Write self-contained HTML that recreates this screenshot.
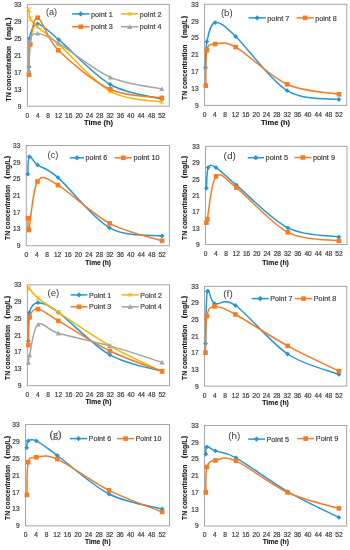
<!DOCTYPE html>
<html><head><meta charset="utf-8"><style>
html,body{margin:0;padding:0;background:#fff;width:350px;height:550px;overflow:hidden}
svg{display:block}
text{font-family:"Liberation Sans",sans-serif}
.tk{font-size:6.6px;fill:#404040;stroke:#404040;stroke-width:0.2}
.lg{font-size:7.6px;fill:#404040;stroke:#404040;stroke-width:0.2}
.xt{font-size:8.1px;font-weight:bold;fill:#1a1a1a;stroke:#1a1a1a;stroke-width:0.15}
.yt{font-size:7.6px;font-weight:bold;fill:#1a1a1a;stroke:#1a1a1a;stroke-width:0.1}
.yp{font-size:7.5px}
.ym{font-size:7.8px}
.lb{font-size:9.5px;fill:#404040}
.lbs{font-size:10px;fill:#404040;stroke:#404040;stroke-width:0.2;font-family:"Liberation Serif",serif}
</style></head><body>
<svg width="350" height="550" viewBox="0 0 350 550" style="will-change:transform">
<g><rect x="27.40" y="4.40" width="141.90" height="101.80" fill="none" stroke="#a6a6a6" stroke-width="1"/><text x="21.50" y="6.80" class="tk" text-anchor="end">33</text><text x="21.50" y="23.77" class="tk" text-anchor="end">29</text><text x="21.50" y="40.73" class="tk" text-anchor="end">25</text><text x="21.50" y="57.70" class="tk" text-anchor="end">21</text><text x="21.50" y="74.67" class="tk" text-anchor="end">17</text><text x="21.50" y="91.63" class="tk" text-anchor="end">13</text><text x="21.50" y="108.60" class="tk" text-anchor="end">9</text><text x="27.40" y="117.60" class="tk" text-anchor="middle">0</text><text x="37.74" y="117.60" class="tk" text-anchor="middle">4</text><text x="48.08" y="117.60" class="tk" text-anchor="middle">8</text><text x="58.42" y="117.60" class="tk" text-anchor="middle">12</text><text x="68.75" y="117.60" class="tk" text-anchor="middle">16</text><text x="79.09" y="117.60" class="tk" text-anchor="middle">20</text><text x="89.43" y="117.60" class="tk" text-anchor="middle">24</text><text x="99.77" y="117.60" class="tk" text-anchor="middle">28</text><text x="110.11" y="117.60" class="tk" text-anchor="middle">32</text><text x="120.45" y="117.60" class="tk" text-anchor="middle">36</text><text x="130.78" y="117.60" class="tk" text-anchor="middle">40</text><text x="141.12" y="117.60" class="tk" text-anchor="middle">44</text><text x="151.46" y="117.60" class="tk" text-anchor="middle">48</text><text x="161.80" y="117.60" class="tk" text-anchor="middle">52</text><text transform="translate(11.10 101.40) rotate(-90)" class="yt" textLength="55.40" lengthAdjust="spacingAndGlyphs">TN concentration</text><text transform="translate(10.10 39.90) rotate(-90)" class="yt yp">(</text><text transform="translate(10.10 20.10) rotate(-90)" class="yt yp">)</text><text transform="translate(11.45 37.10) rotate(-90)" class="yt ym" textLength="16.70" lengthAdjust="spacingAndGlyphs">mg/L</text><text x="98.50" y="124.80" class="xt" text-anchor="middle" textLength="29.0" lengthAdjust="spacingAndGlyphs">Time (h)</text><text x="45.90" y="15.40" class="lb" textLength="11.2" lengthAdjust="spacingAndGlyphs">(a)</text><path d="M29.00 66.90 C29.07 62.17 27.95 45.67 29.40 38.50 C30.85 31.33 32.82 23.70 37.70 23.90 C42.58 24.10 46.60 29.60 58.70 39.70 C70.80 49.80 93.12 74.63 110.30 84.50 C127.48 94.37 153.22 96.50 161.80 98.90" fill="none" stroke="#2496d8" stroke-width="1.5"/><path d="M29.00 64.50L31.40 66.90L29.00 69.30L26.60 66.90Z" fill="#2496d8"/><path d="M29.40 36.10L31.80 38.50L29.40 40.90L27.00 38.50Z" fill="#2496d8"/><path d="M37.70 21.50L40.10 23.90L37.70 26.30L35.30 23.90Z" fill="#2496d8"/><path d="M58.70 37.30L61.10 39.70L58.70 42.10L56.30 39.70Z" fill="#2496d8"/><path d="M110.30 82.10L112.70 84.50L110.30 86.90L107.90 84.50Z" fill="#2496d8"/><path d="M161.80 96.50L164.20 98.90L161.80 101.30L159.40 98.90Z" fill="#2496d8"/><path d="M28.80 9.80 C29.03 11.28 28.83 15.90 30.20 18.70 C31.57 21.50 32.28 22.37 37.00 26.60 C41.72 30.83 46.28 33.32 58.50 44.10 C70.72 54.88 93.08 81.65 110.30 91.30 C127.52 100.95 153.22 100.22 161.80 102.00" fill="none" stroke="#f7b500" stroke-width="1.5"/><path d="M26.40 7.40L31.20 12.20M31.20 7.40L26.40 12.20M28.80 7.16L28.80 12.44" stroke="#f7b500" stroke-width="0.9" fill="none"/><path d="M27.80 16.30L32.60 21.10M32.60 16.30L27.80 21.10M30.20 16.06L30.20 21.34" stroke="#f7b500" stroke-width="0.9" fill="none"/><path d="M34.60 24.20L39.40 29.00M39.40 24.20L34.60 29.00M37.00 23.96L37.00 29.24" stroke="#f7b500" stroke-width="0.9" fill="none"/><path d="M56.10 41.70L60.90 46.50M60.90 41.70L56.10 46.50M58.50 41.46L58.50 46.74" stroke="#f7b500" stroke-width="0.9" fill="none"/><path d="M107.90 88.90L112.70 93.70M112.70 88.90L107.90 93.70M110.30 88.66L110.30 93.94" stroke="#f7b500" stroke-width="0.9" fill="none"/><path d="M159.40 99.60L164.20 104.40M164.20 99.60L159.40 104.40M161.80 99.36L161.80 104.64" stroke="#f7b500" stroke-width="0.9" fill="none"/><path d="M29.00 74.80 C29.22 69.75 28.85 54.02 30.30 44.50 C31.75 34.98 33.03 16.73 37.70 17.70 C42.37 18.67 46.20 38.37 58.30 50.30 C70.40 62.23 93.05 81.37 110.30 89.30 C127.55 97.23 153.22 96.47 161.80 97.90" fill="none" stroke="#f77b22" stroke-width="1.5"/><rect x="26.70" y="72.50" width="4.60" height="4.60" fill="#f77b22"/><rect x="28.00" y="42.20" width="4.60" height="4.60" fill="#f77b22"/><rect x="35.40" y="15.40" width="4.60" height="4.60" fill="#f77b22"/><rect x="56.00" y="48.00" width="4.60" height="4.60" fill="#f77b22"/><rect x="108.00" y="87.00" width="4.60" height="4.60" fill="#f77b22"/><rect x="159.50" y="95.60" width="4.60" height="4.60" fill="#f77b22"/><path d="M29.00 70.50 C29.08 65.67 28.05 47.67 29.50 41.50 C30.95 35.33 32.90 33.23 37.70 33.50 C42.50 33.77 46.20 35.80 58.30 43.10 C70.40 50.40 93.05 69.65 110.30 77.30 C127.55 84.95 153.22 87.05 161.80 89.00" fill="none" stroke="#a5a5a5" stroke-width="1.5"/><path d="M29.00 67.90L31.60 72.58L26.40 72.58Z" fill="#a5a5a5"/><path d="M29.50 38.90L32.10 43.58L26.90 43.58Z" fill="#a5a5a5"/><path d="M37.70 30.90L40.30 35.58L35.10 35.58Z" fill="#a5a5a5"/><path d="M58.30 40.50L60.90 45.18L55.70 45.18Z" fill="#a5a5a5"/><path d="M110.30 74.70L112.90 79.38L107.70 79.38Z" fill="#a5a5a5"/><path d="M161.80 86.40L164.40 91.08L159.20 91.08Z" fill="#a5a5a5"/><line x1="72.00" y1="13.90" x2="89.50" y2="13.90" stroke="#2496d8" stroke-width="1.5"/><path d="M80.75 11.26L83.39 13.90L80.75 16.54L78.11 13.90Z" fill="#2496d8"/><text x="91.00" y="16.50" class="lg" textLength="21.70" lengthAdjust="spacingAndGlyphs">point 1</text><line x1="121.10" y1="13.90" x2="138.30" y2="13.90" stroke="#f7b500" stroke-width="1.5"/><path d="M128.02 12.22L131.38 15.58M131.38 12.22L128.02 15.58M129.70 12.05L129.70 15.75" stroke="#f7b500" stroke-width="0.9" fill="none"/><text x="139.80" y="16.50" class="lg" textLength="21.70" lengthAdjust="spacingAndGlyphs">point 2</text><line x1="72.00" y1="26.80" x2="89.50" y2="26.80" stroke="#f77b22" stroke-width="1.5"/><rect x="78.45" y="24.50" width="4.60" height="4.60" fill="#f77b22"/><text x="91.00" y="29.40" class="lg" textLength="21.70" lengthAdjust="spacingAndGlyphs">point 3</text><line x1="121.10" y1="26.80" x2="138.30" y2="26.80" stroke="#a5a5a5" stroke-width="1.5"/><path d="M129.70 24.20L132.30 28.88L127.10 28.88Z" fill="#a5a5a5"/><text x="139.80" y="29.40" class="lg" textLength="21.70" lengthAdjust="spacingAndGlyphs">point 4</text></g>
<g><rect x="204.50" y="4.30" width="142.30" height="101.10" fill="none" stroke="#a6a6a6" stroke-width="1"/><text x="198.60" y="6.70" class="tk" text-anchor="end">33</text><text x="198.60" y="23.55" class="tk" text-anchor="end">29</text><text x="198.60" y="40.40" class="tk" text-anchor="end">25</text><text x="198.60" y="57.25" class="tk" text-anchor="end">21</text><text x="198.60" y="74.10" class="tk" text-anchor="end">17</text><text x="198.60" y="90.95" class="tk" text-anchor="end">13</text><text x="198.60" y="107.80" class="tk" text-anchor="end">9</text><text x="204.50" y="116.80" class="tk" text-anchor="middle">0</text><text x="214.84" y="116.80" class="tk" text-anchor="middle">4</text><text x="225.18" y="116.80" class="tk" text-anchor="middle">8</text><text x="235.52" y="116.80" class="tk" text-anchor="middle">12</text><text x="245.85" y="116.80" class="tk" text-anchor="middle">16</text><text x="256.19" y="116.80" class="tk" text-anchor="middle">20</text><text x="266.53" y="116.80" class="tk" text-anchor="middle">24</text><text x="276.87" y="116.80" class="tk" text-anchor="middle">28</text><text x="287.21" y="116.80" class="tk" text-anchor="middle">32</text><text x="297.55" y="116.80" class="tk" text-anchor="middle">36</text><text x="307.88" y="116.80" class="tk" text-anchor="middle">40</text><text x="318.22" y="116.80" class="tk" text-anchor="middle">44</text><text x="328.56" y="116.80" class="tk" text-anchor="middle">48</text><text x="338.90" y="116.80" class="tk" text-anchor="middle">52</text><text transform="translate(187.10 99.90) rotate(-90)" class="yt" textLength="55.40" lengthAdjust="spacingAndGlyphs">TN concentration</text><text transform="translate(186.10 38.10) rotate(-90)" class="yt yp">(</text><text transform="translate(186.10 18.20) rotate(-90)" class="yt yp">)</text><text transform="translate(187.45 35.30) rotate(-90)" class="yt ym" textLength="16.80" lengthAdjust="spacingAndGlyphs">mg/L</text><text x="275.50" y="124.50" class="xt" text-anchor="middle" textLength="29.2" lengthAdjust="spacingAndGlyphs">Time (h)</text><text x="220.90" y="15.90" class="lb" textLength="11.7" lengthAdjust="spacingAndGlyphs">(b)</text><path d="M205.50 67.70 C205.73 63.37 205.30 49.22 206.90 41.70 C208.50 34.18 210.30 23.47 215.10 22.60 C219.90 21.73 223.70 25.17 235.70 36.50 C247.70 47.83 269.90 80.10 287.10 90.60 C304.30 101.10 330.27 98.02 338.90 99.50" fill="none" stroke="#2496d8" stroke-width="1.5"/><path d="M205.50 65.30L207.90 67.70L205.50 70.10L203.10 67.70Z" fill="#2496d8"/><path d="M206.90 39.30L209.30 41.70L206.90 44.10L204.50 41.70Z" fill="#2496d8"/><path d="M215.10 20.20L217.50 22.60L215.10 25.00L212.70 22.60Z" fill="#2496d8"/><path d="M235.70 34.10L238.10 36.50L235.70 38.90L233.30 36.50Z" fill="#2496d8"/><path d="M287.10 88.20L289.50 90.60L287.10 93.00L284.70 90.60Z" fill="#2496d8"/><path d="M338.90 97.10L341.30 99.50L338.90 101.90L336.50 99.50Z" fill="#2496d8"/><path d="M205.80 85.70 C205.98 79.78 205.35 57.13 206.90 50.20 C208.45 43.27 210.30 44.62 215.10 44.10 C219.90 43.58 223.70 40.40 235.70 47.10 C247.70 53.80 269.90 76.43 287.10 84.30 C304.30 92.17 330.27 92.63 338.90 94.30" fill="none" stroke="#f77b22" stroke-width="1.5"/><rect x="203.50" y="83.40" width="4.60" height="4.60" fill="#f77b22"/><rect x="204.60" y="47.90" width="4.60" height="4.60" fill="#f77b22"/><rect x="212.80" y="41.80" width="4.60" height="4.60" fill="#f77b22"/><rect x="233.40" y="44.80" width="4.60" height="4.60" fill="#f77b22"/><rect x="284.80" y="82.00" width="4.60" height="4.60" fill="#f77b22"/><rect x="336.60" y="92.00" width="4.60" height="4.60" fill="#f77b22"/><line x1="248.60" y1="17.90" x2="265.70" y2="17.90" stroke="#2496d8" stroke-width="1.5"/><path d="M257.15 15.26L259.79 17.90L257.15 20.54L254.51 17.90Z" fill="#2496d8"/><text x="267.20" y="20.50" class="lg" textLength="22.30" lengthAdjust="spacingAndGlyphs">point 7</text><line x1="296.50" y1="17.90" x2="313.70" y2="17.90" stroke="#f77b22" stroke-width="1.5"/><rect x="302.80" y="15.60" width="4.60" height="4.60" fill="#f77b22"/><text x="315.20" y="20.50" class="lg" textLength="21.50" lengthAdjust="spacingAndGlyphs">point 8</text></g>
<g><rect x="26.30" y="145.50" width="143.10" height="100.20" fill="none" stroke="#a6a6a6" stroke-width="1"/><text x="20.40" y="147.90" class="tk" text-anchor="end">33</text><text x="20.40" y="164.60" class="tk" text-anchor="end">29</text><text x="20.40" y="181.30" class="tk" text-anchor="end">25</text><text x="20.40" y="198.00" class="tk" text-anchor="end">21</text><text x="20.40" y="214.70" class="tk" text-anchor="end">17</text><text x="20.40" y="231.40" class="tk" text-anchor="end">13</text><text x="20.40" y="248.10" class="tk" text-anchor="end">9</text><text x="26.30" y="257.10" class="tk" text-anchor="middle">0</text><text x="36.75" y="257.10" class="tk" text-anchor="middle">4</text><text x="47.19" y="257.10" class="tk" text-anchor="middle">8</text><text x="57.64" y="257.10" class="tk" text-anchor="middle">12</text><text x="68.08" y="257.10" class="tk" text-anchor="middle">16</text><text x="78.53" y="257.10" class="tk" text-anchor="middle">20</text><text x="88.98" y="257.10" class="tk" text-anchor="middle">24</text><text x="99.42" y="257.10" class="tk" text-anchor="middle">28</text><text x="109.87" y="257.10" class="tk" text-anchor="middle">32</text><text x="120.32" y="257.10" class="tk" text-anchor="middle">36</text><text x="130.76" y="257.10" class="tk" text-anchor="middle">40</text><text x="141.21" y="257.10" class="tk" text-anchor="middle">44</text><text x="151.65" y="257.10" class="tk" text-anchor="middle">48</text><text x="162.10" y="257.10" class="tk" text-anchor="middle">52</text><text transform="translate(10.10 239.90) rotate(-90)" class="yt" textLength="55.00" lengthAdjust="spacingAndGlyphs">TN concentration</text><text transform="translate(9.10 178.40) rotate(-90)" class="yt yp">(</text><text transform="translate(9.10 158.20) rotate(-90)" class="yt yp">)</text><text transform="translate(10.45 175.60) rotate(-90)" class="yt ym" textLength="17.10" lengthAdjust="spacingAndGlyphs">mg/L</text><text x="98.20" y="264.50" class="xt" text-anchor="middle" textLength="25.7" lengthAdjust="spacingAndGlyphs">Time (h)</text><text x="47.50" y="158.40" class="lb" textLength="10.9" lengthAdjust="spacingAndGlyphs">(c)</text><path d="M27.80 174.20 C28.05 171.28 27.68 158.25 29.30 156.70 C30.92 155.15 32.72 161.42 37.50 164.90 C42.28 168.38 45.98 167.10 58.00 177.60 C70.02 188.10 92.25 218.17 109.60 227.90 C126.95 237.63 153.35 234.65 162.10 236.00" fill="none" stroke="#2496d8" stroke-width="1.5"/><path d="M27.80 171.80L30.20 174.20L27.80 176.60L25.40 174.20Z" fill="#2496d8"/><path d="M29.30 154.30L31.70 156.70L29.30 159.10L26.90 156.70Z" fill="#2496d8"/><path d="M37.50 162.50L39.90 164.90L37.50 167.30L35.10 164.90Z" fill="#2496d8"/><path d="M58.00 175.20L60.40 177.60L58.00 180.00L55.60 177.60Z" fill="#2496d8"/><path d="M109.60 225.50L112.00 227.90L109.60 230.30L107.20 227.90Z" fill="#2496d8"/><path d="M162.10 233.60L164.50 236.00L162.10 238.40L159.70 236.00Z" fill="#2496d8"/><path d="M28.00 218.20 C28.15 220.17 27.32 236.12 28.90 230.00 C30.48 223.88 32.65 188.98 37.50 181.50 C42.35 174.02 45.98 178.12 58.00 185.10 C70.02 192.08 92.25 214.12 109.60 223.40 C126.95 232.68 153.35 237.90 162.10 240.80" fill="none" stroke="#f77b22" stroke-width="1.5"/><rect x="25.70" y="215.90" width="4.60" height="4.60" fill="#f77b22"/><rect x="26.60" y="227.70" width="4.60" height="4.60" fill="#f77b22"/><rect x="35.20" y="179.20" width="4.60" height="4.60" fill="#f77b22"/><rect x="55.70" y="182.80" width="4.60" height="4.60" fill="#f77b22"/><rect x="107.30" y="221.10" width="4.60" height="4.60" fill="#f77b22"/><rect x="159.80" y="238.50" width="4.60" height="4.60" fill="#f77b22"/><line x1="69.90" y1="157.80" x2="84.00" y2="157.80" stroke="#2496d8" stroke-width="1.5"/><path d="M76.95 155.16L79.59 157.80L76.95 160.44L74.31 157.80Z" fill="#2496d8"/><text x="85.50" y="160.40" class="lg" textLength="21.70" lengthAdjust="spacingAndGlyphs">point 6</text><line x1="114.60" y1="157.80" x2="131.90" y2="157.80" stroke="#f77b22" stroke-width="1.5"/><rect x="120.95" y="155.50" width="4.60" height="4.60" fill="#f77b22"/><text x="133.40" y="160.40" class="lg" textLength="26.30" lengthAdjust="spacingAndGlyphs">point 10</text></g>
<g><rect x="205.50" y="146.40" width="141.50" height="98.10" fill="none" stroke="#a6a6a6" stroke-width="1"/><text x="199.60" y="148.80" class="tk" text-anchor="end">33</text><text x="199.60" y="165.15" class="tk" text-anchor="end">29</text><text x="199.60" y="181.50" class="tk" text-anchor="end">25</text><text x="199.60" y="197.85" class="tk" text-anchor="end">21</text><text x="199.60" y="214.20" class="tk" text-anchor="end">17</text><text x="199.60" y="230.55" class="tk" text-anchor="end">13</text><text x="199.60" y="246.90" class="tk" text-anchor="end">9</text><text x="205.50" y="255.90" class="tk" text-anchor="middle">0</text><text x="215.76" y="255.90" class="tk" text-anchor="middle">4</text><text x="226.02" y="255.90" class="tk" text-anchor="middle">8</text><text x="236.28" y="255.90" class="tk" text-anchor="middle">12</text><text x="246.55" y="255.90" class="tk" text-anchor="middle">16</text><text x="256.81" y="255.90" class="tk" text-anchor="middle">20</text><text x="267.07" y="255.90" class="tk" text-anchor="middle">24</text><text x="277.33" y="255.90" class="tk" text-anchor="middle">28</text><text x="287.59" y="255.90" class="tk" text-anchor="middle">32</text><text x="297.85" y="255.90" class="tk" text-anchor="middle">36</text><text x="308.12" y="255.90" class="tk" text-anchor="middle">40</text><text x="318.38" y="255.90" class="tk" text-anchor="middle">44</text><text x="328.64" y="255.90" class="tk" text-anchor="middle">48</text><text x="338.90" y="255.90" class="tk" text-anchor="middle">52</text><text transform="translate(187.10 239.90) rotate(-90)" class="yt" textLength="55.20" lengthAdjust="spacingAndGlyphs">TN concentration</text><text transform="translate(186.10 178.20) rotate(-90)" class="yt yp">(</text><text transform="translate(186.10 158.20) rotate(-90)" class="yt yp">)</text><text transform="translate(187.45 175.40) rotate(-90)" class="yt ym" textLength="16.90" lengthAdjust="spacingAndGlyphs">mg/L</text><text x="275.60" y="264.90" class="xt" text-anchor="middle" textLength="26.6" lengthAdjust="spacingAndGlyphs">Time (h)</text><text x="223.60" y="158.80" class="lb" textLength="12.4" lengthAdjust="spacingAndGlyphs">(d)</text><path d="M206.40 188.20 C206.70 184.77 206.60 171.03 208.20 167.60 C209.80 164.17 211.30 164.68 216.00 167.60 C220.70 170.52 224.42 175.05 236.40 185.10 C248.38 195.15 270.82 219.27 287.90 227.90 C304.98 236.53 330.40 235.40 338.90 236.90" fill="none" stroke="#2496d8" stroke-width="1.5"/><path d="M206.40 185.80L208.80 188.20L206.40 190.60L204.00 188.20Z" fill="#2496d8"/><path d="M208.20 165.20L210.60 167.60L208.20 170.00L205.80 167.60Z" fill="#2496d8"/><path d="M216.00 165.20L218.40 167.60L216.00 170.00L213.60 167.60Z" fill="#2496d8"/><path d="M236.40 182.70L238.80 185.10L236.40 187.50L234.00 185.10Z" fill="#2496d8"/><path d="M287.90 225.50L290.30 227.90L287.90 230.30L285.50 227.90Z" fill="#2496d8"/><path d="M338.90 234.50L341.30 236.90L338.90 239.30L336.50 236.90Z" fill="#2496d8"/><path d="M206.40 222.70 C206.55 222.10 205.70 226.82 207.30 219.10 C208.90 211.38 211.15 181.65 216.00 176.40 C220.85 171.15 224.42 178.27 236.40 187.60 C248.38 196.93 270.82 223.53 287.90 232.40 C304.98 241.27 330.40 239.40 338.90 240.80" fill="none" stroke="#f77b22" stroke-width="1.5"/><rect x="204.10" y="220.40" width="4.60" height="4.60" fill="#f77b22"/><rect x="205.00" y="216.80" width="4.60" height="4.60" fill="#f77b22"/><rect x="213.70" y="174.10" width="4.60" height="4.60" fill="#f77b22"/><rect x="234.10" y="185.30" width="4.60" height="4.60" fill="#f77b22"/><rect x="285.60" y="230.10" width="4.60" height="4.60" fill="#f77b22"/><rect x="336.60" y="238.50" width="4.60" height="4.60" fill="#f77b22"/><line x1="247.70" y1="157.70" x2="264.00" y2="157.70" stroke="#2496d8" stroke-width="1.5"/><path d="M255.85 155.06L258.49 157.70L255.85 160.34L253.21 157.70Z" fill="#2496d8"/><text x="265.50" y="160.30" class="lg" textLength="22.60" lengthAdjust="spacingAndGlyphs">point 5</text><line x1="294.30" y1="157.50" x2="311.40" y2="157.50" stroke="#f77b22" stroke-width="1.5"/><rect x="300.55" y="155.20" width="4.60" height="4.60" fill="#f77b22"/><text x="312.90" y="160.10" class="lg" textLength="22.10" lengthAdjust="spacingAndGlyphs">point 9</text></g>
<g><rect x="27.40" y="284.80" width="142.10" height="100.90" fill="none" stroke="#a6a6a6" stroke-width="1"/><text x="21.50" y="287.20" class="tk" text-anchor="end">33</text><text x="21.50" y="304.02" class="tk" text-anchor="end">29</text><text x="21.50" y="320.83" class="tk" text-anchor="end">25</text><text x="21.50" y="337.65" class="tk" text-anchor="end">21</text><text x="21.50" y="354.47" class="tk" text-anchor="end">17</text><text x="21.50" y="371.28" class="tk" text-anchor="end">13</text><text x="21.50" y="388.10" class="tk" text-anchor="end">9</text><text x="27.40" y="397.10" class="tk" text-anchor="middle">0</text><text x="37.76" y="397.10" class="tk" text-anchor="middle">4</text><text x="48.12" y="397.10" class="tk" text-anchor="middle">8</text><text x="58.48" y="397.10" class="tk" text-anchor="middle">12</text><text x="68.85" y="397.10" class="tk" text-anchor="middle">16</text><text x="79.21" y="397.10" class="tk" text-anchor="middle">20</text><text x="89.57" y="397.10" class="tk" text-anchor="middle">24</text><text x="99.93" y="397.10" class="tk" text-anchor="middle">28</text><text x="110.29" y="397.10" class="tk" text-anchor="middle">32</text><text x="120.65" y="397.10" class="tk" text-anchor="middle">36</text><text x="131.02" y="397.10" class="tk" text-anchor="middle">40</text><text x="141.38" y="397.10" class="tk" text-anchor="middle">44</text><text x="151.74" y="397.10" class="tk" text-anchor="middle">48</text><text x="162.10" y="397.10" class="tk" text-anchor="middle">52</text><text transform="translate(10.10 379.90) rotate(-90)" class="yt" textLength="55.00" lengthAdjust="spacingAndGlyphs">TN concentration</text><text transform="translate(9.10 318.40) rotate(-90)" class="yt yp">(</text><text transform="translate(9.10 298.20) rotate(-90)" class="yt yp">)</text><text transform="translate(10.45 315.60) rotate(-90)" class="yt ym" textLength="17.10" lengthAdjust="spacingAndGlyphs">mg/L</text><text x="98.40" y="404.20" class="xt" text-anchor="middle" textLength="26.0" lengthAdjust="spacingAndGlyphs">Time (h)</text><text x="47.50" y="296.10" class="lb" textLength="11.8" lengthAdjust="spacingAndGlyphs">(e)</text><path d="M28.40 340.90 C28.55 336.20 27.70 319.07 29.30 312.70 C30.90 306.33 33.15 302.75 38.00 302.70 C42.85 302.65 46.42 303.70 58.40 312.40 C70.38 321.10 92.62 345.07 109.90 354.90 C127.18 364.73 153.40 368.65 162.10 371.40" fill="none" stroke="#2496d8" stroke-width="1.5"/><path d="M28.40 338.50L30.80 340.90L28.40 343.30L26.00 340.90Z" fill="#2496d8"/><path d="M29.30 310.30L31.70 312.70L29.30 315.10L26.90 312.70Z" fill="#2496d8"/><path d="M38.00 300.30L40.40 302.70L38.00 305.10L35.60 302.70Z" fill="#2496d8"/><path d="M58.40 310.00L60.80 312.40L58.40 314.80L56.00 312.40Z" fill="#2496d8"/><path d="M109.90 352.50L112.30 354.90L109.90 357.30L107.50 354.90Z" fill="#2496d8"/><path d="M162.10 369.00L164.50 371.40L162.10 373.80L159.70 371.40Z" fill="#2496d8"/><path d="M28.90 288.20 C30.42 289.87 33.08 294.17 38.00 298.20 C42.92 302.23 46.42 304.47 58.40 312.40 C70.38 320.33 92.62 335.97 109.90 345.80 C127.18 355.63 153.40 367.13 162.10 371.40" fill="none" stroke="#f7b500" stroke-width="1.5"/><path d="M26.50 285.80L31.30 290.60M31.30 285.80L26.50 290.60M28.90 285.56L28.90 290.84" stroke="#f7b500" stroke-width="0.9" fill="none"/><path d="M35.60 295.80L40.40 300.60M40.40 295.80L35.60 300.60M38.00 295.56L38.00 300.84" stroke="#f7b500" stroke-width="0.9" fill="none"/><path d="M56.00 310.00L60.80 314.80M60.80 310.00L56.00 314.80M58.40 309.76L58.40 315.04" stroke="#f7b500" stroke-width="0.9" fill="none"/><path d="M107.50 343.40L112.30 348.20M112.30 343.40L107.50 348.20M109.90 343.16L109.90 348.44" stroke="#f7b500" stroke-width="0.9" fill="none"/><path d="M159.70 369.00L164.50 373.80M164.50 369.00L159.70 373.80M162.10 368.76L162.10 374.04" stroke="#f7b500" stroke-width="0.9" fill="none"/><path d="M28.40 345.10 C28.60 340.47 28.00 323.30 29.60 317.30 C31.20 311.30 33.20 308.50 38.00 309.10 C42.80 309.70 46.42 313.92 58.40 320.90 C70.38 327.88 92.62 342.58 109.90 351.00 C127.18 359.42 153.40 368.00 162.10 371.40" fill="none" stroke="#f77b22" stroke-width="1.5"/><rect x="26.10" y="342.80" width="4.60" height="4.60" fill="#f77b22"/><rect x="27.30" y="315.00" width="4.60" height="4.60" fill="#f77b22"/><rect x="35.70" y="306.80" width="4.60" height="4.60" fill="#f77b22"/><rect x="56.10" y="318.60" width="4.60" height="4.60" fill="#f77b22"/><rect x="107.60" y="348.70" width="4.60" height="4.60" fill="#f77b22"/><rect x="159.80" y="369.10" width="4.60" height="4.60" fill="#f77b22"/><path d="M28.40 362.70 C28.60 361.43 28.00 361.47 29.60 355.10 C31.20 348.73 33.20 328.13 38.00 324.50 C42.80 320.87 46.42 329.73 58.40 333.30 C70.38 336.87 92.62 341.05 109.90 345.90 C127.18 350.75 153.40 359.65 162.10 362.40" fill="none" stroke="#a5a5a5" stroke-width="1.5"/><path d="M28.40 360.10L31.00 364.78L25.80 364.78Z" fill="#a5a5a5"/><path d="M29.60 352.50L32.20 357.18L27.00 357.18Z" fill="#a5a5a5"/><path d="M38.00 321.90L40.60 326.58L35.40 326.58Z" fill="#a5a5a5"/><path d="M58.40 330.70L61.00 335.38L55.80 335.38Z" fill="#a5a5a5"/><path d="M109.90 343.30L112.50 347.98L107.30 347.98Z" fill="#a5a5a5"/><path d="M162.10 359.80L164.70 364.48L159.50 364.48Z" fill="#a5a5a5"/><line x1="70.60" y1="294.90" x2="87.40" y2="294.90" stroke="#2496d8" stroke-width="1.5"/><path d="M79.00 292.26L81.64 294.90L79.00 297.54L76.36 294.90Z" fill="#2496d8"/><text x="88.90" y="297.50" class="lg" textLength="22.30" lengthAdjust="spacingAndGlyphs">Point 1</text><line x1="121.70" y1="294.90" x2="138.80" y2="294.90" stroke="#f7b500" stroke-width="1.5"/><path d="M128.57 293.22L131.93 296.58M131.93 293.22L128.57 296.58M130.25 293.05L130.25 296.75" stroke="#f7b500" stroke-width="0.9" fill="none"/><text x="140.30" y="297.50" class="lg" textLength="21.60" lengthAdjust="spacingAndGlyphs">Point 2</text><line x1="70.60" y1="306.80" x2="87.40" y2="306.80" stroke="#f77b22" stroke-width="1.5"/><rect x="76.70" y="304.50" width="4.60" height="4.60" fill="#f77b22"/><text x="88.90" y="309.40" class="lg" textLength="22.30" lengthAdjust="spacingAndGlyphs">Point 3</text><line x1="121.70" y1="306.80" x2="138.80" y2="306.80" stroke="#a5a5a5" stroke-width="1.5"/><path d="M130.25 304.20L132.85 308.88L127.65 308.88Z" fill="#a5a5a5"/><text x="140.30" y="309.40" class="lg" textLength="21.60" lengthAdjust="spacingAndGlyphs">Point 4</text></g>
<g><rect x="204.50" y="286.40" width="142.30" height="99.70" fill="none" stroke="#a6a6a6" stroke-width="1"/><text x="198.60" y="288.80" class="tk" text-anchor="end">33</text><text x="198.60" y="305.42" class="tk" text-anchor="end">29</text><text x="198.60" y="322.03" class="tk" text-anchor="end">25</text><text x="198.60" y="338.65" class="tk" text-anchor="end">21</text><text x="198.60" y="355.27" class="tk" text-anchor="end">17</text><text x="198.60" y="371.88" class="tk" text-anchor="end">13</text><text x="198.60" y="388.50" class="tk" text-anchor="end">9</text><text x="204.50" y="397.50" class="tk" text-anchor="middle">0</text><text x="214.84" y="397.50" class="tk" text-anchor="middle">4</text><text x="225.18" y="397.50" class="tk" text-anchor="middle">8</text><text x="235.52" y="397.50" class="tk" text-anchor="middle">12</text><text x="245.85" y="397.50" class="tk" text-anchor="middle">16</text><text x="256.19" y="397.50" class="tk" text-anchor="middle">20</text><text x="266.53" y="397.50" class="tk" text-anchor="middle">24</text><text x="276.87" y="397.50" class="tk" text-anchor="middle">28</text><text x="287.21" y="397.50" class="tk" text-anchor="middle">32</text><text x="297.55" y="397.50" class="tk" text-anchor="middle">36</text><text x="307.88" y="397.50" class="tk" text-anchor="middle">40</text><text x="318.22" y="397.50" class="tk" text-anchor="middle">44</text><text x="328.56" y="397.50" class="tk" text-anchor="middle">48</text><text x="338.90" y="397.50" class="tk" text-anchor="middle">52</text><text transform="translate(187.10 379.90) rotate(-90)" class="yt" textLength="55.20" lengthAdjust="spacingAndGlyphs">TN concentration</text><text transform="translate(186.10 318.20) rotate(-90)" class="yt yp">(</text><text transform="translate(186.10 298.20) rotate(-90)" class="yt yp">)</text><text transform="translate(187.45 315.40) rotate(-90)" class="yt ym" textLength="16.90" lengthAdjust="spacingAndGlyphs">mg/L</text><text x="275.60" y="404.50" class="xt" text-anchor="middle" textLength="26.6" lengthAdjust="spacingAndGlyphs">Time (h)</text><text x="223.30" y="297.00" class="lb" textLength="9.4" lengthAdjust="spacingAndGlyphs">(f)</text><path d="M205.50 343.60 C205.80 334.88 205.80 297.97 207.30 291.30 C208.80 284.63 209.80 301.23 214.50 303.60 C219.20 305.97 223.32 297.10 235.50 305.50 C247.68 313.90 270.37 342.52 287.60 354.00 C304.83 365.48 330.35 371.00 338.90 374.40" fill="none" stroke="#2496d8" stroke-width="1.5"/><path d="M205.50 341.20L207.90 343.60L205.50 346.00L203.10 343.60Z" fill="#2496d8"/><path d="M207.30 288.90L209.70 291.30L207.30 293.70L204.90 291.30Z" fill="#2496d8"/><path d="M214.50 301.20L216.90 303.60L214.50 306.00L212.10 303.60Z" fill="#2496d8"/><path d="M235.50 303.10L237.90 305.50L235.50 307.90L233.10 305.50Z" fill="#2496d8"/><path d="M287.60 351.60L290.00 354.00L287.60 356.40L285.20 354.00Z" fill="#2496d8"/><path d="M338.90 372.00L341.30 374.40L338.90 376.80L336.50 374.40Z" fill="#2496d8"/><path d="M205.50 352.70 C205.73 346.58 205.40 323.72 206.90 316.00 C208.40 308.28 209.73 306.65 214.50 306.40 C219.27 306.15 223.32 307.92 235.50 314.50 C247.68 321.08 270.37 336.47 287.60 345.90 C304.83 355.33 330.35 366.90 338.90 371.10" fill="none" stroke="#f77b22" stroke-width="1.5"/><rect x="203.20" y="350.40" width="4.60" height="4.60" fill="#f77b22"/><rect x="204.60" y="313.70" width="4.60" height="4.60" fill="#f77b22"/><rect x="212.20" y="304.10" width="4.60" height="4.60" fill="#f77b22"/><rect x="233.20" y="312.20" width="4.60" height="4.60" fill="#f77b22"/><rect x="285.30" y="343.60" width="4.60" height="4.60" fill="#f77b22"/><rect x="336.60" y="368.80" width="4.60" height="4.60" fill="#f77b22"/><line x1="251.70" y1="298.60" x2="268.80" y2="298.60" stroke="#2496d8" stroke-width="1.5"/><path d="M260.25 295.96L262.89 298.60L260.25 301.24L257.61 298.60Z" fill="#2496d8"/><text x="270.30" y="301.20" class="lg" textLength="22.10" lengthAdjust="spacingAndGlyphs">Point 7</text><line x1="294.80" y1="298.60" x2="312.30" y2="298.60" stroke="#f77b22" stroke-width="1.5"/><rect x="301.25" y="296.30" width="4.60" height="4.60" fill="#f77b22"/><text x="313.80" y="301.20" class="lg" textLength="22.50" lengthAdjust="spacingAndGlyphs">Point 8</text></g>
<g><rect x="25.50" y="424.50" width="144.00" height="101.40" fill="none" stroke="#a6a6a6" stroke-width="1"/><text x="19.60" y="426.90" class="tk" text-anchor="end">33</text><text x="19.60" y="443.80" class="tk" text-anchor="end">29</text><text x="19.60" y="460.70" class="tk" text-anchor="end">25</text><text x="19.60" y="477.60" class="tk" text-anchor="end">21</text><text x="19.60" y="494.50" class="tk" text-anchor="end">17</text><text x="19.60" y="511.40" class="tk" text-anchor="end">13</text><text x="19.60" y="528.30" class="tk" text-anchor="end">9</text><text x="25.50" y="537.30" class="tk" text-anchor="middle">0</text><text x="36.01" y="537.30" class="tk" text-anchor="middle">4</text><text x="46.52" y="537.30" class="tk" text-anchor="middle">8</text><text x="57.02" y="537.30" class="tk" text-anchor="middle">12</text><text x="67.53" y="537.30" class="tk" text-anchor="middle">16</text><text x="78.04" y="537.30" class="tk" text-anchor="middle">20</text><text x="88.55" y="537.30" class="tk" text-anchor="middle">24</text><text x="99.05" y="537.30" class="tk" text-anchor="middle">28</text><text x="109.56" y="537.30" class="tk" text-anchor="middle">32</text><text x="120.07" y="537.30" class="tk" text-anchor="middle">36</text><text x="130.58" y="537.30" class="tk" text-anchor="middle">40</text><text x="141.08" y="537.30" class="tk" text-anchor="middle">44</text><text x="151.59" y="537.30" class="tk" text-anchor="middle">48</text><text x="162.10" y="537.30" class="tk" text-anchor="middle">52</text><text transform="translate(10.10 519.90) rotate(-90)" class="yt" textLength="55.00" lengthAdjust="spacingAndGlyphs">TN concentration</text><text transform="translate(9.10 458.40) rotate(-90)" class="yt yp">(</text><text transform="translate(9.10 438.20) rotate(-90)" class="yt yp">)</text><text transform="translate(10.45 455.60) rotate(-90)" class="yt ym" textLength="17.10" lengthAdjust="spacingAndGlyphs">mg/L</text><text x="97.80" y="543.80" class="xt" text-anchor="middle" textLength="25.7" lengthAdjust="spacingAndGlyphs">Time (h)</text><text x="49.70" y="438.10" class="lbs" textLength="11.8" lengthAdjust="spacingAndGlyphs">(g)</text><path d="M26.70 447.80 C26.95 446.65 26.58 442.05 28.20 440.90 C29.82 439.75 31.55 438.47 36.40 440.90 C41.25 443.33 45.20 446.65 57.30 455.50 C69.40 464.35 91.53 485.08 109.00 494.00 C126.47 502.92 153.25 506.50 162.10 509.00" fill="none" stroke="#2496d8" stroke-width="1.5"/><path d="M26.70 445.40L29.10 447.80L26.70 450.20L24.30 447.80Z" fill="#2496d8"/><path d="M28.20 438.50L30.60 440.90L28.20 443.30L25.80 440.90Z" fill="#2496d8"/><path d="M36.40 438.50L38.80 440.90L36.40 443.30L34.00 440.90Z" fill="#2496d8"/><path d="M57.30 453.10L59.70 455.50L57.30 457.90L54.90 455.50Z" fill="#2496d8"/><path d="M109.00 491.60L111.40 494.00L109.00 496.40L106.60 494.00Z" fill="#2496d8"/><path d="M162.10 506.60L164.50 509.00L162.10 511.40L159.70 509.00Z" fill="#2496d8"/><path d="M26.90 494.90 C27.12 489.45 26.62 468.47 28.20 462.20 C29.78 455.93 31.55 457.82 36.40 457.30 C41.25 456.78 45.20 453.58 57.30 459.10 C69.40 464.62 91.53 481.58 109.00 490.40 C126.47 499.22 153.25 508.40 162.10 512.00" fill="none" stroke="#f77b22" stroke-width="1.5"/><rect x="24.60" y="492.60" width="4.60" height="4.60" fill="#f77b22"/><rect x="25.90" y="459.90" width="4.60" height="4.60" fill="#f77b22"/><rect x="34.10" y="455.00" width="4.60" height="4.60" fill="#f77b22"/><rect x="55.00" y="456.80" width="4.60" height="4.60" fill="#f77b22"/><rect x="106.70" y="488.10" width="4.60" height="4.60" fill="#f77b22"/><rect x="159.80" y="509.70" width="4.60" height="4.60" fill="#f77b22"/><line x1="69.90" y1="438.60" x2="87.10" y2="438.60" stroke="#2496d8" stroke-width="1.5"/><path d="M78.50 435.96L81.14 438.60L78.50 441.24L75.86 438.60Z" fill="#2496d8"/><text x="88.60" y="441.20" class="lg" textLength="22.60" lengthAdjust="spacingAndGlyphs">Point 6</text><line x1="117.10" y1="438.60" x2="134.10" y2="438.60" stroke="#f77b22" stroke-width="1.5"/><rect x="123.30" y="436.30" width="4.60" height="4.60" fill="#f77b22"/><text x="135.60" y="441.20" class="lg" textLength="25.80" lengthAdjust="spacingAndGlyphs">Point 10</text></g>
<g><rect x="204.50" y="425.50" width="142.10" height="100.50" fill="none" stroke="#a6a6a6" stroke-width="1"/><text x="198.60" y="427.90" class="tk" text-anchor="end">33</text><text x="198.60" y="444.65" class="tk" text-anchor="end">29</text><text x="198.60" y="461.40" class="tk" text-anchor="end">25</text><text x="198.60" y="478.15" class="tk" text-anchor="end">21</text><text x="198.60" y="494.90" class="tk" text-anchor="end">17</text><text x="198.60" y="511.65" class="tk" text-anchor="end">13</text><text x="198.60" y="528.40" class="tk" text-anchor="end">9</text><text x="204.50" y="537.40" class="tk" text-anchor="middle">0</text><text x="214.84" y="537.40" class="tk" text-anchor="middle">4</text><text x="225.18" y="537.40" class="tk" text-anchor="middle">8</text><text x="235.52" y="537.40" class="tk" text-anchor="middle">12</text><text x="245.85" y="537.40" class="tk" text-anchor="middle">16</text><text x="256.19" y="537.40" class="tk" text-anchor="middle">20</text><text x="266.53" y="537.40" class="tk" text-anchor="middle">24</text><text x="276.87" y="537.40" class="tk" text-anchor="middle">28</text><text x="287.21" y="537.40" class="tk" text-anchor="middle">32</text><text x="297.55" y="537.40" class="tk" text-anchor="middle">36</text><text x="307.88" y="537.40" class="tk" text-anchor="middle">40</text><text x="318.22" y="537.40" class="tk" text-anchor="middle">44</text><text x="328.56" y="537.40" class="tk" text-anchor="middle">48</text><text x="338.90" y="537.40" class="tk" text-anchor="middle">52</text><text transform="translate(187.10 519.90) rotate(-90)" class="yt" textLength="55.20" lengthAdjust="spacingAndGlyphs">TN concentration</text><text transform="translate(186.10 458.20) rotate(-90)" class="yt yp">(</text><text transform="translate(186.10 438.20) rotate(-90)" class="yt yp">)</text><text transform="translate(187.45 455.40) rotate(-90)" class="yt ym" textLength="16.90" lengthAdjust="spacingAndGlyphs">mg/L</text><text x="275.80" y="543.80" class="xt" text-anchor="middle" textLength="26.3" lengthAdjust="spacingAndGlyphs">Time (h)</text><text x="228.20" y="438.80" class="lb" textLength="12.2" lengthAdjust="spacingAndGlyphs">(h)</text><path d="M205.80 454.20 C205.98 452.98 205.28 447.45 206.90 446.90 C208.52 446.35 210.65 449.08 215.50 450.90 C220.35 452.72 223.98 451.02 236.00 457.80 C248.02 464.58 270.45 481.67 287.60 491.60 C304.75 501.53 330.35 513.10 338.90 517.40" fill="none" stroke="#2496d8" stroke-width="1.5"/><path d="M205.80 451.80L208.20 454.20L205.80 456.60L203.40 454.20Z" fill="#2496d8"/><path d="M206.90 444.50L209.30 446.90L206.90 449.30L204.50 446.90Z" fill="#2496d8"/><path d="M215.50 448.50L217.90 450.90L215.50 453.30L213.10 450.90Z" fill="#2496d8"/><path d="M236.00 455.40L238.40 457.80L236.00 460.20L233.60 457.80Z" fill="#2496d8"/><path d="M287.60 489.20L290.00 491.60L287.60 494.00L285.20 491.60Z" fill="#2496d8"/><path d="M338.90 515.00L341.30 517.40L338.90 519.80L336.50 517.40Z" fill="#2496d8"/><path d="M205.80 492.40 C205.98 488.15 205.28 472.23 206.90 466.90 C208.52 461.57 210.65 461.40 215.50 460.40 C220.35 459.40 223.98 455.55 236.00 460.90 C248.02 466.25 270.45 484.58 287.60 492.50 C304.75 500.42 330.35 505.75 338.90 508.40" fill="none" stroke="#f77b22" stroke-width="1.5"/><rect x="203.50" y="490.10" width="4.60" height="4.60" fill="#f77b22"/><rect x="204.60" y="464.60" width="4.60" height="4.60" fill="#f77b22"/><rect x="213.20" y="458.10" width="4.60" height="4.60" fill="#f77b22"/><rect x="233.70" y="458.60" width="4.60" height="4.60" fill="#f77b22"/><rect x="285.30" y="490.20" width="4.60" height="4.60" fill="#f77b22"/><rect x="336.60" y="506.10" width="4.60" height="4.60" fill="#f77b22"/><line x1="248.20" y1="439.10" x2="264.90" y2="439.10" stroke="#2496d8" stroke-width="1.5"/><path d="M256.55 436.46L259.19 439.10L256.55 441.74L253.91 439.10Z" fill="#2496d8"/><text x="266.40" y="441.70" class="lg" textLength="22.60" lengthAdjust="spacingAndGlyphs">Point 5</text><line x1="297.20" y1="438.60" x2="314.30" y2="438.60" stroke="#f77b22" stroke-width="1.5"/><rect x="303.45" y="436.30" width="4.60" height="4.60" fill="#f77b22"/><text x="315.80" y="441.20" class="lg" textLength="22.60" lengthAdjust="spacingAndGlyphs">Point 9</text></g>
</svg></body></html>
